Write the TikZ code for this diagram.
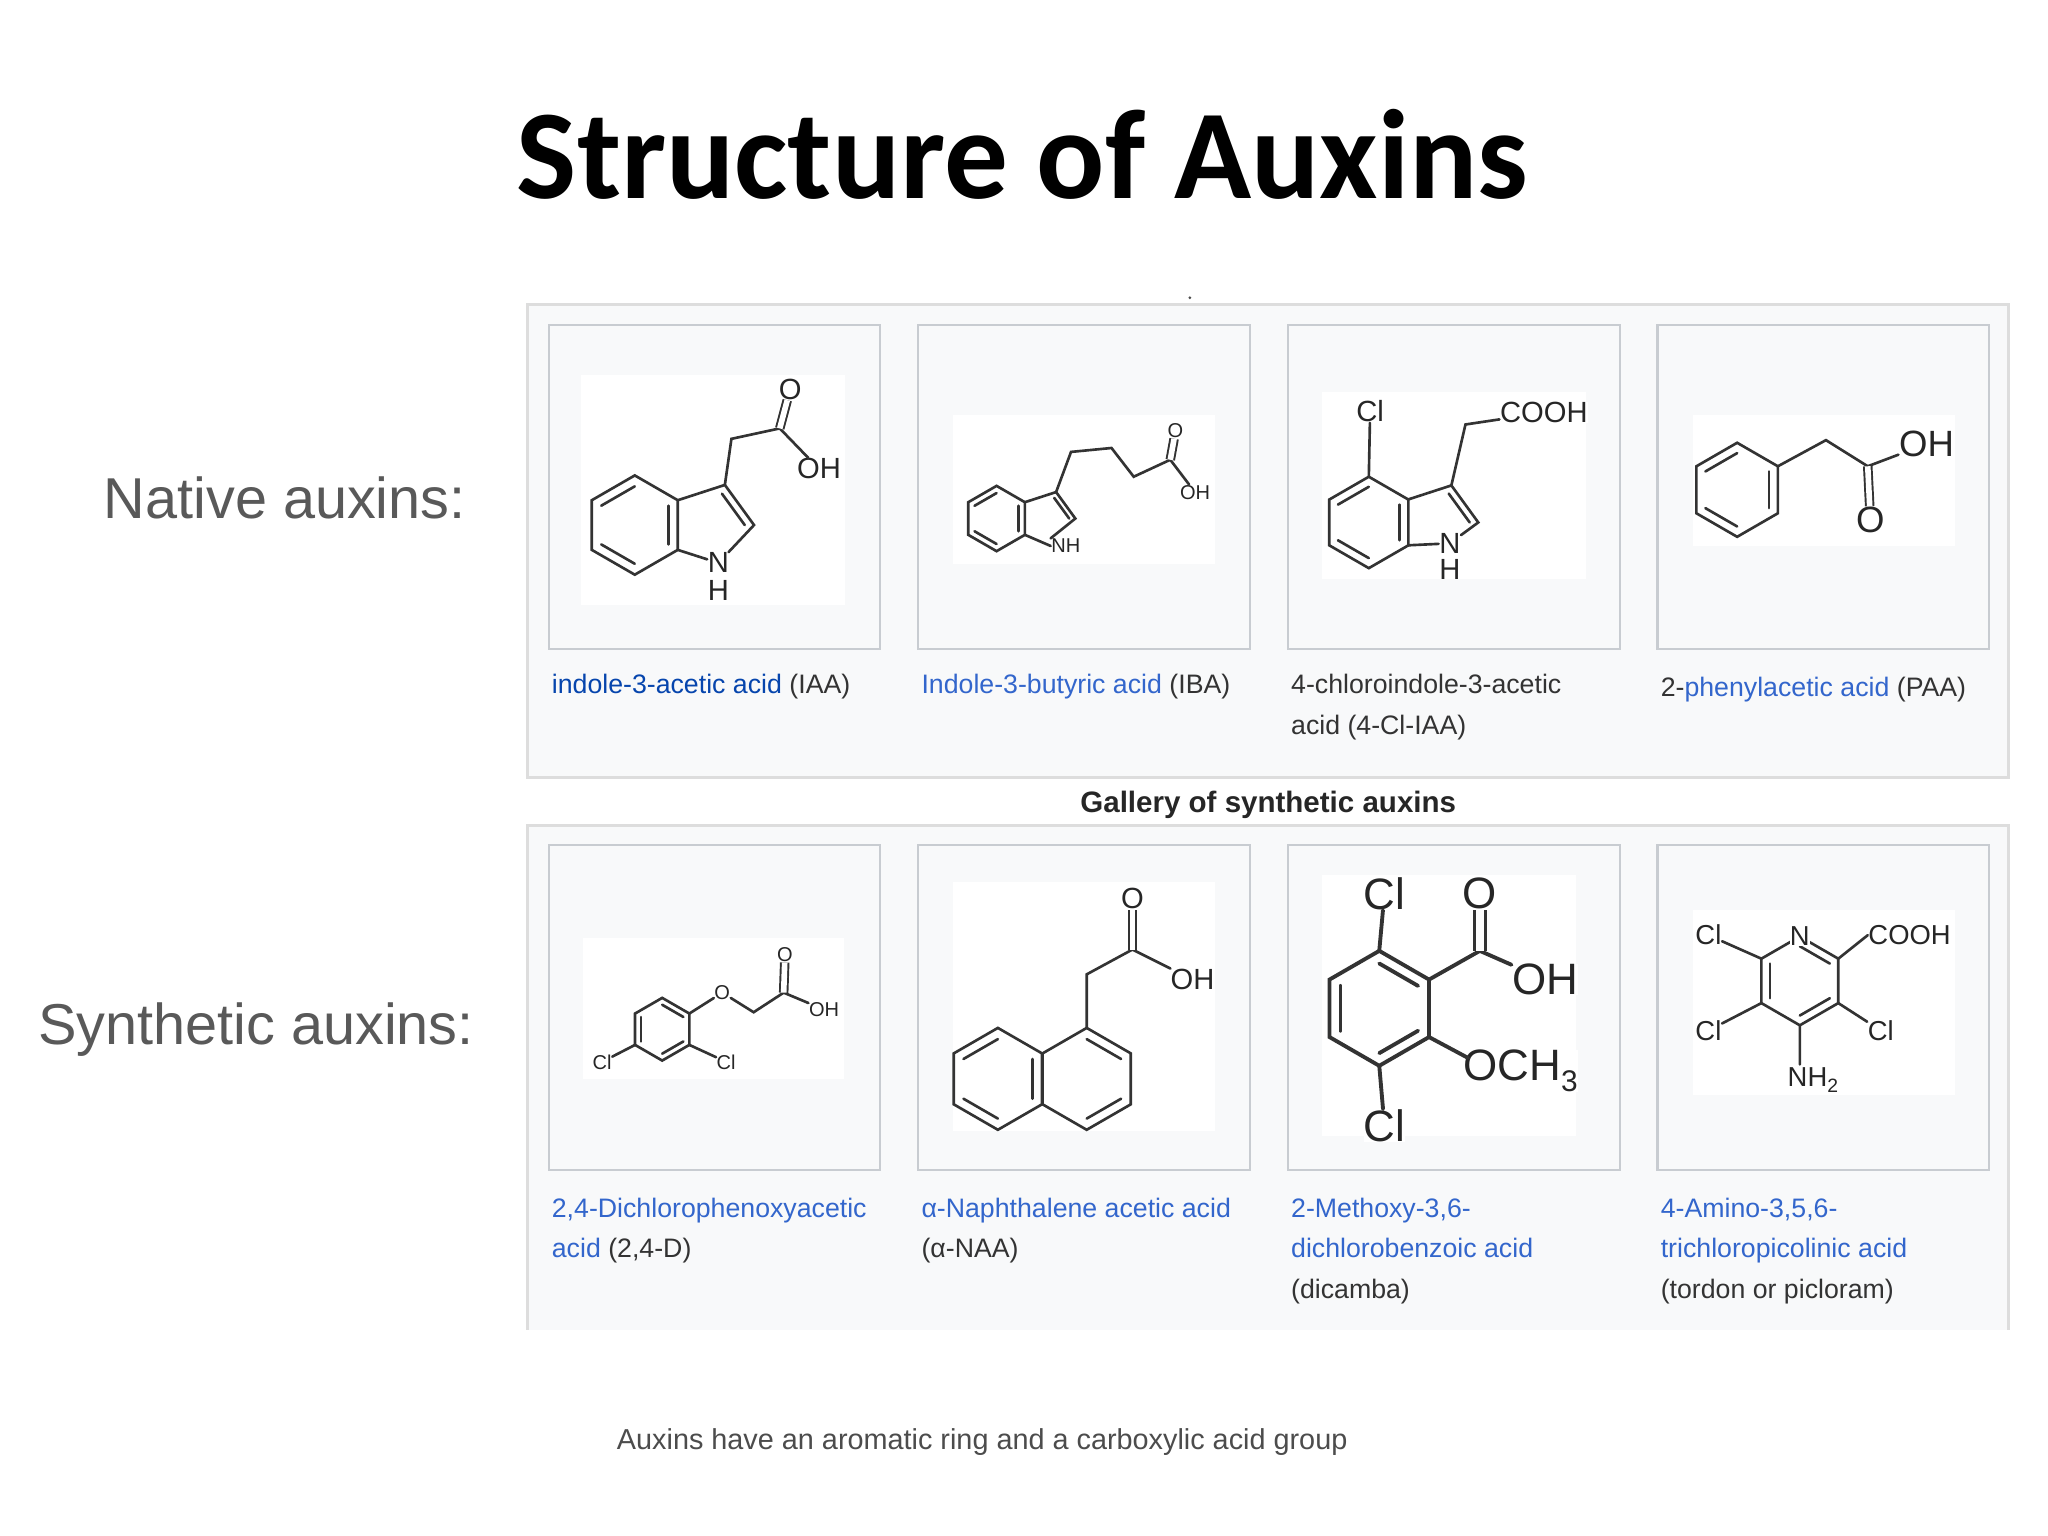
\documentclass[tikz,border=0pt]{standalone}
\usepackage{fontspec}
\setmainfont{Liberation Sans}
\newfontfamily\titlefont{Carlito}
\usetikzlibrary{calc}
\definecolor{lk}{HTML}{3366CC}
\definecolor{lkd}{HTML}{0645AD}
\definecolor{txt}{HTML}{333333}
\definecolor{panel}{HTML}{F8F9FA}
\definecolor{pborder}{HTML}{DDDDDD}
\definecolor{bborder}{HTML}{C8CCD1}
\newcommand\mkring[6]{\foreach \i in {1,...,#6}{\coordinate (#1-\i) at ($(#2,#3)+({#5+(\i-1)*360/#6}:#4)$);}\coordinate (#1-c) at (#2,#3);}
\newcommand\drawring[2]{\draw[bond] (#1-1) \foreach \i in {2,...,#2}{-- (#1-\i)} -- cycle;}
\newcommand\dbl[3]{\draw[bond] ($(#1-#2)!0.22!(#1-c)$) -- ($(#1-#3)!0.22!(#1-c)$);}
\begin{document}
\begin{tikzpicture}[x=0.013061cm,y=-0.013061cm,
  bond/.style={line width=0.75pt,color=black!80,line cap=round},
  dbond/.style={line width=0.55pt,color=black!80,double,double distance=1.6pt},
  atom/.style={fill=white,inner sep=0pt,text=black!85,font=\fontsize{#1}{#1}\selectfont},
  atom/.default=8.3,
  captxt/.style={anchor=base west,inner sep=0pt,text=txt,font=\fontsize{7.6}{8}\selectfont},
  ibox/.style={draw=bborder,fill=panel,line width=0.6pt},
  img/.style={fill=white,draw=none}]
\useasboundingbox[fill=white] (0,0) rectangle (1568,1176);
% title and labels
\node[font=\titlefont\bfseries\fontsize{36.2}{40}\selectfont] (title) at (783,118) {Structure of Auxins};
\node[text=black!65,font=\fontsize{16.4}{18}\selectfont] (nat) at (218,381) {Native auxins:};
\node[text=black!65,font=\fontsize{16.4}{18}\selectfont] (syn) at (196,788) {Synthetic auxins:};
\node[text=black!70,font=\fontsize{8.2}{9}\selectfont] (foot) at (752,1104) {Auxins have an aromatic ring and a carboxylic acid group};
\fill[black!70] (911,228) circle (1.2);
% panels
\draw[pborder,fill=panel,line width=0.8pt] (404,233) rectangle (1538,595);
\fill[panel] (404,632) rectangle (1538,1018);
\draw[pborder,line width=0.8pt] (404,1018) -- (404,632) -- (1538,632) -- (1538,1018);
\node[font=\bfseries\fontsize{8.4}{9}\selectfont,text=black!85] (gal) at (971,616) {Gallery of synthetic auxins};
\foreach \x in {420,703,986,1269}{
  \draw[ibox] (\x,249) rectangle ++(254,248);
  \draw[ibox] (\x,647) rectangle ++(254,249);}
\fill[img] (445,287) rectangle (647,463);
\fill[img] (730,318) rectangle (930,432);
\fill[img] (1012,300) rectangle (1214,443);
\fill[img] (1296,318) rectangle (1497,418);
\fill[img] (446,718) rectangle (646,826);
\fill[img] (730,675) rectangle (930,866);
\fill[img] (1012,670) rectangle (1207,870);
\fill[img] (1296,697) rectangle (1497,838);
% captions
\node[captxt] (c1) at (422,531) {\textcolor{lkd}{indole-3-acetic acid} (IAA)};
\node[captxt] (c2) at (705,531) {\textcolor{lk}{Indole-3-butyric acid} (IBA)};
\node[captxt] (c3a) at (988,531) {4-chloroindole-3-acetic};
\node[captxt] (c3b) at (988,562) {acid (4-Cl-IAA)};
\node[captxt] (c4) at (1271,533) {2-\textcolor{lk}{phenylacetic acid} (PAA)};
\node[captxt] (c5a) at (422,932) {\textcolor{lk}{2,4-Dichlorophenoxyacetic}};
\node[captxt] (c5b) at (422,963) {\textcolor{lk}{acid} (2,4-D)};
\node[captxt] (c6a) at (705,932) {\textcolor{lk}{α-Naphthalene acetic acid}};
\node[captxt] (c6b) at (705,963) {(α-NAA)};
\node[captxt] (c7a) at (988,932) {\textcolor{lk}{2-Methoxy-3,6-}};
\node[captxt] (c7b) at (988,963) {\textcolor{lk}{dichlorobenzoic acid}};
\node[captxt] (c7c) at (988,994) {(dicamba)};
\node[captxt] (c8a) at (1271,932) {\textcolor{lk}{4-Amino-3,5,6-}};
\node[captxt] (c8b) at (1271,963) {\textcolor{lk}{trichloropicolinic acid}};
\node[captxt] (c8c) at (1271,994) {(tordon or picloram)};
% ---- IAA
\mkring{a}{486}{402}{38}{30}{6}
\mkring{ap}{545}{402}{32.3}{0}{5}
\drawring{a}{6}
\dbl{a}{4}{5}\dbl{a}{6}{1}\dbl{a}{2}{3}
\node[atom] (aN) at (550,431) {N};
\node[atom] (aH) at (550,452) {H};
\draw[bond] (ap-3) -- (aN) -- (ap-1) -- (ap-5) -- (ap-4);
\dbl{ap}{1}{5}
\coordinate (ach) at (560,336);
\coordinate (acc) at (597,328);
\node[atom] (aO) at (605,298) {O};
\node[atom] (aOH) at (627,359) {OH};
\draw[bond] (ap-5) -- (ach) -- (acc) -- (aOH);
\draw[dbond] (acc) -- (aO);
% ---- IBA
\mkring{b}{763}{397}{25}{30}{6}
\mkring{bp}{802}{397}{21.3}{0}{5}
\drawring{b}{6}
\dbl{b}{4}{5}\dbl{b}{6}{1}\dbl{b}{2}{3}
\node[atom=5.7] (bN) at (816,418) {NH};
\draw[bond] (bp-3) -- (bN.west) (bN.north west) -- (bp-1) -- (bp-5) -- (bp-4);
\dbl{bp}{1}{5}
\coordinate (b1) at (820,346);
\coordinate (b2) at (851,343);
\coordinate (b3) at (868,365);
\coordinate (b4) at (896,352);
\node[atom=5.7] (bO) at (900,330) {O};
\node[atom=5.7] (bOH) at (915,377) {OH};
\draw[bond] (bp-5) -- (b1) -- (b2) -- (b3) -- (b4) -- (bOH);
\draw[dbond] (b4) -- (bO);
% ---- 4-Cl-IAA
\mkring{c}{1048}{400}{35}{30}{6}
\mkring{cp}{1102}{400}{29.8}{0}{5}
\drawring{c}{6}
\dbl{c}{4}{5}\dbl{c}{6}{1}\dbl{c}{2}{3}
\node[atom] (cN) at (1110,416) {N};
\node[atom] (cH) at (1110,436) {H};
\draw[bond] (cp-3) -- (cN) -- (cp-1) -- (cp-5) -- (cp-4);
\dbl{cp}{1}{5}
\node[atom] (cCl) at (1049,315) {Cl};
\draw[bond] (c-5) -- (cCl);
\coordinate (cch) at (1122,325);
\node[atom,anchor=west] (cCOOH) at (1148,316) {COOH};
\draw[bond] (cp-5) -- (cch) -- (cCOOH);
% ---- PAA
\mkring{d}{1330}{375}{36}{30}{6}
\drawring{d}{6}
\dbl{d}{4}{5}\dbl{d}{6}{1}\dbl{d}{2}{3}
\coordinate (d1) at (1398,337);
\coordinate (d2) at (1430,357);
\node[atom=10.4] (dOH) at (1475,340) {OH};
\node[atom=10.4] (dO) at (1432,398) {O};
\draw[bond] (d-6) -- (d1) -- (d2) -- (dOH);
\draw[dbond] (d2) -- (dO);
% ---- 2,4-D
\mkring{e}{507}{788}{24}{30}{6}
\drawring{e}{6}
\dbl{e}{3}{4}\dbl{e}{5}{6}\dbl{e}{1}{2}
\node[atom=5.7] (eO1) at (553,760) {O};
\node[atom=5.7] (eCl1) at (461,813) {Cl};
\node[atom=5.7] (eCl2) at (556,813) {Cl};
\coordinate (e1) at (577,775);
\coordinate (e2) at (600,760);
\node[atom=5.7] (eO) at (601,731) {O};
\node[atom=5.7] (eOH) at (631,773) {OH};
\draw[bond] (e-6) -- (eO1) -- (e1) -- (e2) -- (eOH);
\draw[bond] (e-3) -- (eCl1) (e-1) -- (eCl2);
\draw[dbond] (e2) -- (eO);
% ---- NAA
\mkring{f}{764}{826}{39}{30}{6}
\mkring{g}{832}{826}{39}{30}{6}
\drawring{f}{6}\drawring{g}{6}
\dbl{f}{2}{3}\dbl{f}{4}{5}\dbl{f}{6}{1}\dbl{g}{5}{6}\dbl{g}{1}{2}
\coordinate (g1) at (832,746);
\coordinate (g2) at (867,727);
\node[atom] (gO) at (867,688) {O};
\node[atom] (gOH) at (913,750) {OH};
\draw[bond] (g-5) -- (g1) -- (g2) -- (gOH);
\draw[dbond] (g2) -- (gO);
% ---- dicamba
\begin{scope}[bond/.append style={line width=1.1pt},dbond/.append style={line width=0.8pt,double distance=2.4pt}]
\mkring{h}{1056}{772}{44}{30}{6}
\drawring{h}{6}
\dbl{h}{5}{6}\dbl{h}{1}{2}\dbl{h}{3}{4}
\node[atom=12.5] (hCl1) at (1060,684) {Cl};
\node[atom=12.5] (hCl2) at (1060,862) {Cl};
\coordinate (h1) at (1133,728);
\node[atom=12.5] (hO) at (1133,684) {O};
\node[atom=12.5] (hOH) at (1183,750) {OH};
\node[atom=12.5,anchor=west] (hOM) at (1120,820) {OCH\raisebox{-0.45ex}{\fontsize{8.5}{9}\selectfont 3}};
\coordinate (hOb) at (1124,810);
\draw[bond] (h-5) -- (hCl1) (h-2) -- (hCl2) (h-6) -- (h1) -- (hOH) (h-1) -- (hOb);
\draw[dbond] (h1) -- (hO);
\end{scope}
% ---- picloram
\mkring{k}{1378}{751}{34}{30}{6}
\drawring{k}{6}
\dbl{k}{3}{4}\dbl{k}{5}{6}\dbl{k}{1}{2}
\node[atom=7.8] (kN) at (1378,717) {N};
\node[atom=7.8] (kCl1) at (1308,716) {Cl};
\node[atom=7.8] (kCl2) at (1308,789) {Cl};
\node[atom=7.8] (kCl3) at (1440,789) {Cl};
\node[atom=7.8] (kNH) at (1388,827) {NH\raisebox{-0.45ex}{\fontsize{5.5}{6}\selectfont 2}};
\node[atom=7.8,anchor=west] (kCOOH) at (1430,716) {COOH};
\draw[bond] (k-4) -- (kCl1) (k-3) -- (kCl2) (k-1) -- (kCl3) (k-2) -- (1378,815) (k-6) -- (kCOOH.west);
\end{tikzpicture}
\end{document}
